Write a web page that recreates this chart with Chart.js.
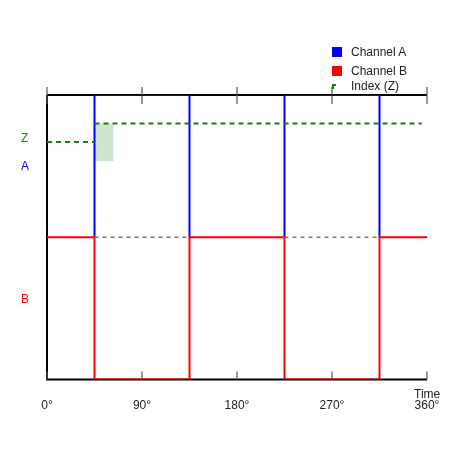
<!DOCTYPE html><html><head><meta charset="utf-8">
<script src="https://cdn.jsdelivr.net/npm/chart.js@4"></script>
<style>body{margin:0;background:#fff;font-family:"Liberation Sans",Arial,sans-serif}
#w{position:relative;width:474px;height:474px}
.t{position:absolute;font-size:12px;line-height:12px;white-space:nowrap}
</style></head><body><div id="w"><canvas id="c" width="474" height="474"></canvas>
<div class="t" style="left:332px;top:47px;width:10px;height:10px;background:#0000ff"></div>
<div class="t" style="left:351px;top:46px;color:#222">Channel A</div>
<div class="t" style="left:332px;top:66px;width:10px;height:10px;background:#ff0000"></div>
<div class="t" style="left:351px;top:65px;color:#222">Channel B</div>
<div class="t" style="left:332px;top:84px;width:4px;height:5px;border-left:2px solid #1a7a1a;border-top:2px solid #1a7a1a;box-sizing:border-box"></div>
<div class="t" style="left:351px;top:80px;color:#222">Index (Z)</div>
<div class="t" style="left:414px;top:388px;color:#222">Time</div>
<div class="t" style="left:21px;top:132px;color:#1a8a1a">Z</div>
<div class="t" style="left:21px;top:160px;color:#0000ff">A</div>
<div class="t" style="left:21px;top:293px;color:#ff0000">B</div>
</div>
<script>
const tickDeg=[0,90,180,270,360];
const tickLabels=['0°','90°','180°','270°','360°'];
const chanA=[[45,1],[45,2],[135,2],[135,1],null,[225,1],[225,2],[315,2],[315,1]];
const chanB=[[0,1],[45,1],[45,0],[135,0],[135,1],[225,1],[225,0],[315,0],[315,1],[360,1]];
const midGray=[[45,1],[135,1],null,[225,1],[315,1]];
const indexZ=[[0,1.67],[45,1.67],null,[45,1.80],[355,1.80]];
const zPulse={x0:45,x1:63,y0:1.535,y1:1.80};
const pts=a=>a.map(p=>p?{x:p[0],y:p[1]}:{x:null,y:null});
const deco={id:'deco',beforeDatasetsDraw(ch){const c=ch.ctx,x=ch.scales.x,y=ch.scales.y;
 c.save();
 c.fillStyle='rgba(60,150,60,0.25)';
 const rx0=x.getPixelForValue(zPulse.x0),rx1=x.getPixelForValue(zPulse.x1),ry0=y.getPixelForValue(zPulse.y1),ry1=y.getPixelForValue(zPulse.y0);
 c.fillRect(rx0,ry0,rx1-rx0,ry1-ry0);
 c.strokeStyle='#000';c.lineWidth=2;
 const L=x.getPixelForValue(0),R=x.getPixelForValue(360),T=y.getPixelForValue(2),B=y.getPixelForValue(0);
 c.beginPath();c.moveTo(L,T);c.lineTo(R,T);c.moveTo(L,T);c.lineTo(L,B);c.lineTo(R,B);c.stroke();
 c.strokeStyle='#555';c.lineWidth=1.2;
 tickDeg.forEach(d=>{const px=x.getPixelForValue(d);c.beginPath();c.moveTo(px,T-8);c.lineTo(px,T+9);c.moveTo(px,B);c.lineTo(px,B-8);c.stroke();});
 c.restore();}};
new Chart(document.getElementById('c'),{type:'line',
 data:{datasets:[
  {data:pts(midGray),borderColor:'#777',borderDash:[4,4],borderWidth:1.5},
  {data:pts(indexZ),borderColor:'#1a7a1a',borderDash:[5,4],borderWidth:2},
  {data:pts(chanB),borderColor:'#ff0000',borderWidth:2},
  {data:pts(chanA),borderColor:'#0000ff',borderWidth:2}
 ]},
 options:{responsive:false,animation:false,spanGaps:false,
  elements:{point:{radius:0},line:{tension:0}},
  layout:{padding:{left:47,right:47,top:95,bottom:42}},
  plugins:{legend:{display:false},tooltip:{enabled:false}},
  scales:{
   x:{type:'linear',min:0,max:360,afterBuildTicks:s=>{s.ticks=tickDeg.map(v=>({value:v}))},
    grid:{display:false,drawTicks:false},border:{display:false},
    ticks:{padding:19,maxRotation:0,color:'#222',font:{family:'Liberation Sans',size:12},callback:(v)=>tickLabels[tickDeg.indexOf(v)]}},
   y:{min:0,max:2,display:false}
  }},
 plugins:[deco]});
</script></body></html>
